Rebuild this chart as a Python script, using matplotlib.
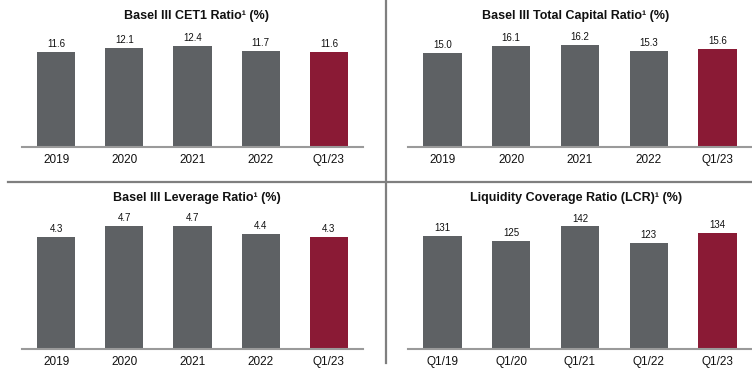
import matplotlib
matplotlib.use("Agg")
import matplotlib.pyplot as plt
from matplotlib.lines import Line2D

plt.rcParams['font.family'] = ['Liberation Sans', 'DejaVu Sans']

# ---- data ----
years = ["2019", "2020", "2021", "2022", "Q1/23"]
quarters = ["Q1/19", "Q1/20", "Q1/21", "Q1/22", "Q1/23"]
cet1 = [11.6, 12.1, 12.4, 11.7, 11.6]
cet1_labels = ["11.6", "12.1", "12.4", "11.7", "11.6"]
total_cap = [15.0, 16.1, 16.2, 15.3, 15.6]
total_cap_labels = ["15.0", "16.1", "16.2", "15.3", "15.6"]
leverage = [4.3, 4.7, 4.7, 4.4, 4.3]
leverage_labels = ["4.3", "4.7", "4.7", "4.4", "4.3"]
lcr = [131, 125, 142, 123, 134]
lcr_labels = ["131", "125", "142", "123", "134"]

titles = ["Basel III CET1 Ratio¹ (%)", "Basel III Total Capital Ratio¹ (%)",
          "Basel III Leverage Ratio¹ (%)", "Liquidity Coverage Ratio (LCR)¹ (%)"]

GRAY = "#5e6164"
MAROON = "#8a1a35"

W, H = 752, 368
fig = plt.figure(figsize=(W / 100, H / 100), dpi=100)

def px_axes(x0, x1, ytop, ybase):
    return fig.add_axes([x0 / W, (H - ybase) / H, (x1 - x0) / W, (ybase - ytop) / H])

panels = [
    # (x0, x1, ytop, ybase, ymax, cats, vals, labels, title, title_y)
    (22, 363, 30, 147, 14.3, years, cet1, cet1_labels, titles[0], 15.5),
    (408, 752, 30, 147, 18.6, years, total_cap, total_cap_labels, titles[1], 16),
    (22, 363, 214, 348.7, 5.17, years, leverage, leverage_labels, titles[2], 197.5),
    (408, 752, 214, 348.7, 156.3, quarters, lcr, lcr_labels, titles[3], 197.5),
]

for x0, x1, ytop, ybase, ymax, cats, vals, labels, title, ty in panels:
    ax = px_axes(x0, x1, ytop, ybase)
    colors = [GRAY] * (len(vals) - 1) + [MAROON]
    xs = range(len(vals))
    ax.bar(xs, vals, width=0.56, color=colors, zorder=2)
    ax.set_xlim(-0.5, len(vals) - 0.5)
    ax.set_ylim(0, ymax)
    for s in ["top", "right", "left"]:
        ax.spines[s].set_visible(False)
    ax.spines["bottom"].set_color("#9a9a9a")
    ax.spines["bottom"].set_linewidth(1.5)
    ax.spines["bottom"].set_zorder(3)
    ax.set_yticks([])
    ax.set_xticks(list(xs))
    ax.set_xticklabels(cats, fontsize=8.5, color="#111111")
    ax.tick_params(axis="x", length=0, pad=5)
    for x, v, lab in zip(xs, vals, labels):
        ax.annotate(lab, (x, v), xytext=(0, 2), textcoords="offset points",
                    ha="center", va="bottom", fontsize=7, color="#111111")
    cx = (x0 + x1) / 2 + (4 if x0 < 100 else -4)
    fig.text(cx / W, (H - ty) / H, title, ha="center", va="center",
             fontsize=9, fontweight="bold", color="#111111")

# separator lines
fig.add_artist(Line2D([8 / W, 1.0], [(H - 182) / H] * 2, color="#7f7f7f", lw=1.6))
fig.add_artist(Line2D([385.7 / W] * 2, [1.0, (H - 363) / H], color="#7f7f7f", lw=1.6))

fig.savefig("out.png", dpi=100, facecolor="white")
